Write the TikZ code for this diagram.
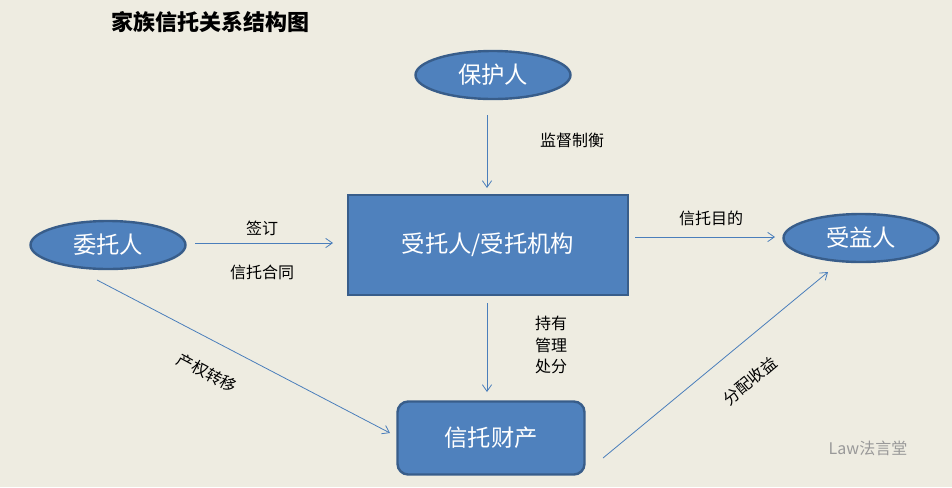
\documentclass[tikz,border=0pt]{standalone}
\usepackage{fontspec}
\setmainfont{Noto Sans CJK SC}
\usetikzlibrary{shapes.geometric,arrows.meta}
\definecolor{bg}{RGB}{238,236,225}
\definecolor{nb}{RGB}{79,129,189}
\definecolor{nd}{RGB}{56,93,138}
\definecolor{ar}{RGB}{74,126,187}
\begin{document}
\begin{tikzpicture}[x=0.75pt,y=-0.75pt,
 ell/.style={ellipse,draw=nd,line width=1.8pt,fill=nb,text=white,minimum width=155*0.75pt,minimum height=48*0.75pt,inner sep=0pt,font=\fontsize{17.5}{17.5}\selectfont},
 box/.style={draw=nd,line width=1.8pt,fill=nb,text=white,inner sep=0pt,font=\fontsize{17.5}{17.5}\selectfont},
 arr/.style={draw=ar,line width=0.6pt,-{Straight Barb[length=5pt,width=7pt]}},
 lab/.style={font=\fontsize{12}{16}\selectfont,text=black,align=center}]
\fill[bg] (0,0) rectangle (952,487);
\node[font=\bfseries\fontsize{16.5}{16.5}\selectfont] (t) at (210,22) {家族信托关系结构图};
\node[ell] (bh) at (493,75) {保护人};
\node[box,minimum width=280*0.75pt,minimum height=100*0.75pt] (st) at (488,245) {受托人/受托机构};
\node[ell] (wt) at (108,245) {委托人};
\node[ell] (sy) at (861,238) {受益人};
\node[box,rounded corners=8pt,minimum width=187*0.75pt,minimum height=73*0.75pt] (cc) at (491,438) {信托财产};
\coordinate (a1) at (487,115); \coordinate (a2) at (487,188);
\draw[arr] (a1) -- (a2);
\node[lab] (l1) at (572,140) {监督制衡};
\coordinate (b1) at (195,243); \coordinate (b2) at (333,243);
\draw[arr] (b1) -- (b2);
\node[lab] (l2) at (262,228) {签订};
\node[lab] (l3) at (262,272) {信托合同};
\coordinate (c1) at (635,237); \coordinate (c2) at (775,237);
\draw[arr] (c1) -- (c2);
\node[lab] (l4) at (711,218) {信托目的};
\coordinate (d1) at (487,303); \coordinate (d2) at (487,392);
\draw[arr] (d1) -- (d2);
\node[lab] (l5) at (551,345) {持有\\管理\\处分};
\coordinate (e1) at (97,280); \coordinate (e2) at (390,433);
\draw[arr] (e1) -- (e2);
\node[lab,rotate=-28] (l6) at (207,373) {产权转移};
\coordinate (f1) at (603,458); \coordinate (f2) at (828,272);
\draw[arr] (f1) -- (f2);
\node[lab,rotate=40] (l7) at (750,381) {分配收益};
\node[font=\fontsize{12}{12}\selectfont,text=gray!80] (wm) at (868,448) {Law法言堂};
\end{tikzpicture}
\end{document}
